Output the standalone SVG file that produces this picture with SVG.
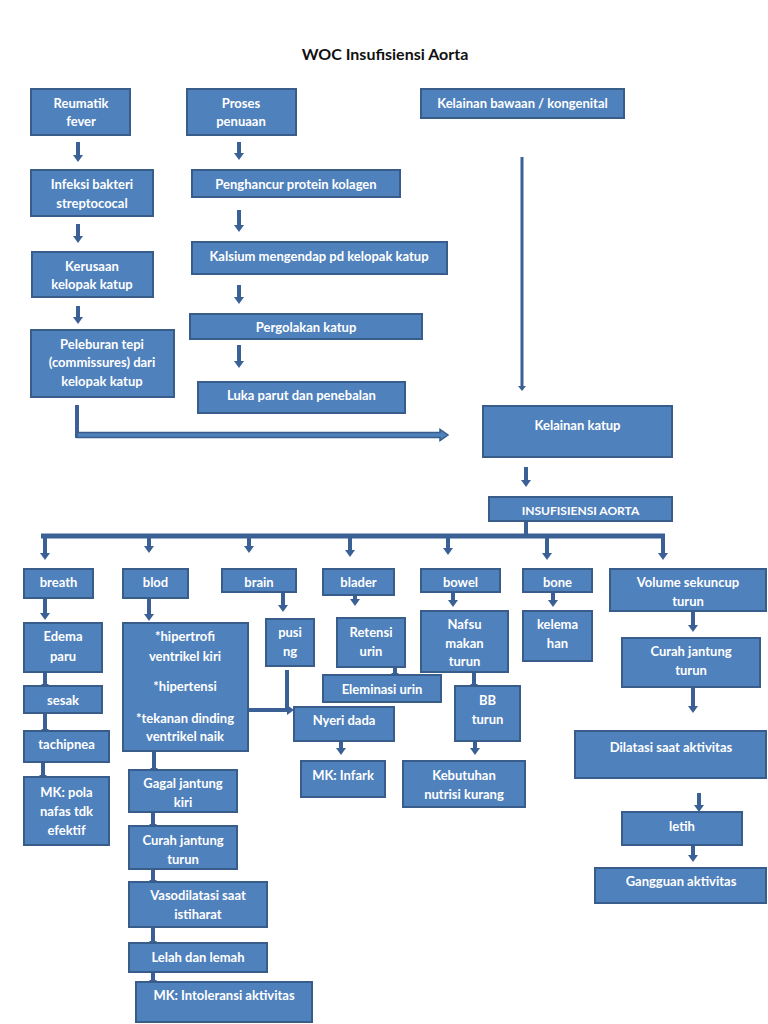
<svg xmlns="http://www.w3.org/2000/svg" width="768" height="1024" viewBox="0 0 768 1024">
<style>
.n rect{fill:#4F81BD;stroke:#385D8A;stroke-width:2}
.n text{fill:#fff;font-family:Lato,"Liberation Sans",sans-serif;font-weight:bold;font-size:13px;text-anchor:middle}
.c line,.c polyline{stroke:#3B6096;stroke-width:4;fill:none}
.c .s{marker-end:url(#sm)}
.c .b{marker-end:url(#big)}
.title{font-family:Lato,"Liberation Sans",sans-serif;font-weight:bold;font-size:16px;text-anchor:middle;fill:#111}
</style>
<defs>
<marker id="big" markerUnits="userSpaceOnUse" viewBox="0 0 7 10" markerWidth="7" markerHeight="10" refX="3" refY="5" orient="auto"><path d="M0,0 L7,5 L0,10 z" fill="#3B6096"/></marker>
<marker id="sm" markerUnits="userSpaceOnUse" viewBox="0 0 4 8" markerWidth="4" markerHeight="8" refX="1" refY="4" orient="auto"><path d="M0,0 L4,4 L0,8 z" fill="#3B6096"/></marker>
<marker id="thin" markerUnits="userSpaceOnUse" viewBox="0 0 5 8" markerWidth="5" markerHeight="8" refX="2" refY="4" orient="auto"><path d="M0,0 L5,4 L0,8 z" fill="#3B6096"/></marker>
</defs>
<rect width="768" height="1024" fill="#fff"/>
<text class="title" x="385" y="60">WOC Insufisiensi Aorta</text>
<g id="connectors" class="c">
<line class="b" x1="78" y1="142" x2="78" y2="158"/>
<line class="b" x1="78" y1="224" x2="78" y2="239"/>
<line class="b" x1="78" y1="306" x2="78" y2="320"/>
<line class="b" x1="239" y1="142" x2="239" y2="156"/>
<line class="b" x1="239" y1="210" x2="239" y2="228"/>
<line class="b" x1="239" y1="285" x2="239" y2="300"/>
<line class="b" x1="239" y1="345" x2="239" y2="364"/>
<line x1="77" y1="405" x2="77" y2="438"/>
<polygon points="77,432.5 440,432.5 440,429.5 448,435 440,440.5 440,437.5 77,437.5" fill="#4F81BD" stroke="#385D8A" stroke-width="1.5"/>
<line x1="522" y1="157" x2="522" y2="388" style="stroke-width:3;marker-end:url(#thin)"/>
<line class="b" x1="526" y1="467" x2="526" y2="483"/>
<line x1="526" y1="521" x2="526" y2="536"/>
<line x1="41" y1="536" x2="665" y2="536" style="stroke-width:5"/>
<line class="b" x1="45" y1="536" x2="45" y2="556"/>
<line class="b" x1="149" y1="536" x2="149" y2="549"/>
<line class="b" x1="249" y1="536" x2="249" y2="549"/>
<line class="b" x1="350" y1="536" x2="350" y2="553"/>
<line class="b" x1="448" y1="536" x2="448" y2="551"/>
<line class="b" x1="547" y1="536" x2="547" y2="556"/>
<line class="b" x1="663" y1="536" x2="663" y2="556"/>
<line class="b" x1="45" y1="598" x2="45" y2="616"/>
<line class="b" x1="149" y1="598" x2="149" y2="617"/>
<line class="b" x1="283" y1="592" x2="283" y2="608"/>
<line class="b" x1="355" y1="595" x2="355" y2="602"/>
<line class="b" x1="453" y1="592" x2="453" y2="603"/>
<line class="b" x1="553" y1="592" x2="553" y2="603"/>
<line class="b" x1="693" y1="611" x2="693" y2="628"/>
<line class="b" x1="693" y1="687" x2="693" y2="709"/>
<line class="b" x1="699" y1="793" x2="699" y2="808"/>
<line class="b" x1="693" y1="845" x2="693" y2="858"/>
<line class="s" x1="45" y1="672" x2="45" y2="685"/>
<line class="s" x1="45" y1="713" x2="45" y2="730"/>
<line class="s" x1="43" y1="762" x2="43" y2="776"/>
<line class="s" x1="154" y1="751" x2="154" y2="769"/>
<line class="s" x1="153" y1="812" x2="153" y2="825"/>
<line class="s" x1="153" y1="869" x2="153" y2="881"/>
<line class="s" x1="153" y1="927" x2="153" y2="942"/>
<line class="s" x1="153" y1="972" x2="153" y2="981"/>
<line x1="287" y1="670" x2="287" y2="712"/>
<line class="b" x1="248" y1="710" x2="290" y2="710"/>
<line class="b" x1="341" y1="741" x2="341" y2="751"/>
<line class="s" x1="395" y1="667" x2="395" y2="674"/>
<line class="s" x1="474" y1="672" x2="474" y2="685"/>
<line class="b" x1="475" y1="741" x2="475" y2="751"/>
</g>
<g id="n1" class="n"><rect x="31" y="89" width="99" height="46"/><text x="81" y="107.5">Reumatik</text><text x="81" y="126">fever</text></g>
<g id="n2" class="n"><rect x="187" y="89" width="109" height="46"/><text x="241" y="107.5">Proses</text><text x="241" y="126">penuaan</text></g>
<g id="n3" class="n"><rect x="421" y="89" width="203" height="29"/><text x="522.5" y="107.5">Kelainan bawaan / kongenital</text></g>
<g id="n4" class="n"><rect x="31" y="170" width="122" height="46"/><text x="92" y="188.5">Infeksi bakteri</text><text x="92" y="207.5">streptococal</text></g>
<g id="n5" class="n"><rect x="192" y="170" width="208" height="27"/><text x="296" y="188.5">Penghancur protein kolagen</text></g>
<g id="n6" class="n"><rect x="32" y="252" width="121" height="45"/><text x="92" y="270.5">Kerusaan</text><text x="92" y="289">kelopak katup</text></g>
<g id="n7" class="n"><rect x="192" y="242" width="255" height="32"/><text x="319" y="261">Kalsium mengendap pd kelopak katup</text></g>
<g id="n8" class="n"><rect x="190" y="314" width="232" height="25"/><text x="306" y="332">Pergolakan katup</text></g>
<g id="n9" class="n"><rect x="31" y="330" width="143" height="67"/><text x="102" y="348.5">Peleburan tepi</text><text x="102" y="367">(commissures) dari</text><text x="102" y="385.5">kelopak katup</text></g>
<g id="n10" class="n"><rect x="198" y="382" width="207" height="31"/><text x="301.5" y="399.5">Luka parut dan penebalan</text></g>
<g id="n11" class="n"><rect x="483" y="406" width="189" height="51"/><text x="577.5" y="429.5">Kelainan katup</text></g>
<g id="n12" class="n"><rect x="489" y="497" width="183" height="24"/><text x="580.5" y="514.5" style="font-size:12px">INSUFISIENSI AORTA</text></g>
<g id="n13" class="n"><rect x="24" y="569" width="69" height="29"/><text x="58.5" y="587">breath</text></g>
<g id="n14" class="n"><rect x="123" y="569" width="65" height="29"/><text x="155.5" y="587">blod</text></g>
<g id="n15" class="n"><rect x="222" y="569" width="74" height="23"/><text x="259" y="587">brain</text></g>
<g id="n16" class="n"><rect x="323" y="569" width="71" height="26"/><text x="358.5" y="587">blader</text></g>
<g id="n17" class="n"><rect x="421" y="569" width="79" height="23"/><text x="460.5" y="587">bowel</text></g>
<g id="n18" class="n"><rect x="523" y="569" width="69" height="23"/><text x="557.5" y="587">bone</text></g>
<g id="n19" class="n"><rect x="610" y="569" width="156" height="42"/><text x="688" y="587">Volume sekuncup</text><text x="688" y="606">turun</text></g>
<g id="n20" class="n"><rect x="24" y="623" width="78" height="49"/><text x="63" y="641">Edema</text><text x="63" y="660.5">paru</text></g>
<g id="n21" class="n"><rect x="123" y="623" width="125" height="128"/><text x="185" y="641">*hipertrofi</text><text x="185" y="660.5">ventrikel kiri</text><text x="185" y="691">*hipertensi</text><text x="185" y="722.5">*tekanan dinding</text><text x="185" y="741">ventrikel naik</text></g>
<g id="n22" class="n"><rect x="266" y="619" width="48" height="47"/><text x="290" y="637">pusi</text><text x="290" y="656">ng</text></g>
<g id="n23" class="n"><rect x="337" y="618" width="68" height="49"/><text x="371" y="636.5">Retensi</text><text x="371" y="656">urin</text></g>
<g id="n24" class="n"><rect x="421" y="611" width="87" height="61"/><text x="464.5" y="628.5">Nafsu</text><text x="464.5" y="647.5">makan</text><text x="464.5" y="666">turun</text></g>
<g id="n25" class="n"><rect x="523" y="611" width="69" height="50"/><text x="557.5" y="628.5">kelema</text><text x="557.5" y="647.5">han</text></g>
<g id="n26" class="n"><rect x="622" y="638" width="138" height="49"/><text x="691" y="656">Curah jantung</text><text x="691" y="675">turun</text></g>
<g id="n27" class="n"><rect x="24" y="686" width="78" height="27"/><text x="63" y="704.5">sesak</text></g>
<g id="n28" class="n"><rect x="323" y="675" width="118" height="27"/><text x="382" y="693.5">Eleminasi urin</text></g>
<g id="n29" class="n"><rect x="455" y="686" width="65" height="55"/><text x="487.5" y="704.5">BB</text><text x="487.5" y="723.5">turun</text></g>
<g id="n30" class="n"><rect x="294" y="707" width="100" height="34"/><text x="344" y="724.5">Nyeri dada</text></g>
<g id="n31" class="n"><rect x="24" y="731" width="85" height="31"/><text x="66.5" y="748.5">tachipnea</text></g>
<g id="n32" class="n"><rect x="575" y="731" width="191" height="47"/><text x="671" y="752">Dilatasi saat aktivitas</text></g>
<g id="n33" class="n"><rect x="301" y="761" width="84" height="36"/><text x="343" y="779.5">MK: Infark</text></g>
<g id="n34" class="n"><rect x="403" y="761" width="122" height="46"/><text x="464" y="779.5">Kebutuhan</text><text x="464" y="798.5">nutrisi kurang</text></g>
<g id="n35" class="n"><rect x="24" y="777" width="85" height="68"/><text x="66.5" y="796.5">MK: pola</text><text x="66.5" y="816">nafas tdk</text><text x="66.5" y="835">efektif</text></g>
<g id="n36" class="n"><rect x="129" y="770" width="108" height="42"/><text x="183" y="788">Gagal jantung</text><text x="183" y="807">kiri</text></g>
<g id="n37" class="n"><rect x="622" y="812" width="120" height="33"/><text x="682" y="831">letih</text></g>
<g id="n38" class="n"><rect x="129" y="826" width="108" height="43"/><text x="183" y="844.5">Curah jantung</text><text x="183" y="863.5">turun</text></g>
<g id="n39" class="n"><rect x="595" y="868" width="171" height="35"/><text x="681" y="886">Gangguan aktivitas</text></g>
<g id="n40" class="n"><rect x="129" y="882" width="138" height="45"/><text x="198" y="899.5">Vasodilatasi saat</text><text x="198" y="919">istiharat</text></g>
<g id="n41" class="n"><rect x="129" y="943" width="138" height="29"/><text x="198" y="962">Lelah dan lemah</text></g>
<g id="n42" class="n"><rect x="136" y="982" width="176" height="40"/><text x="224" y="1000">MK: Intoleransi aktivitas</text></g>
</svg>
